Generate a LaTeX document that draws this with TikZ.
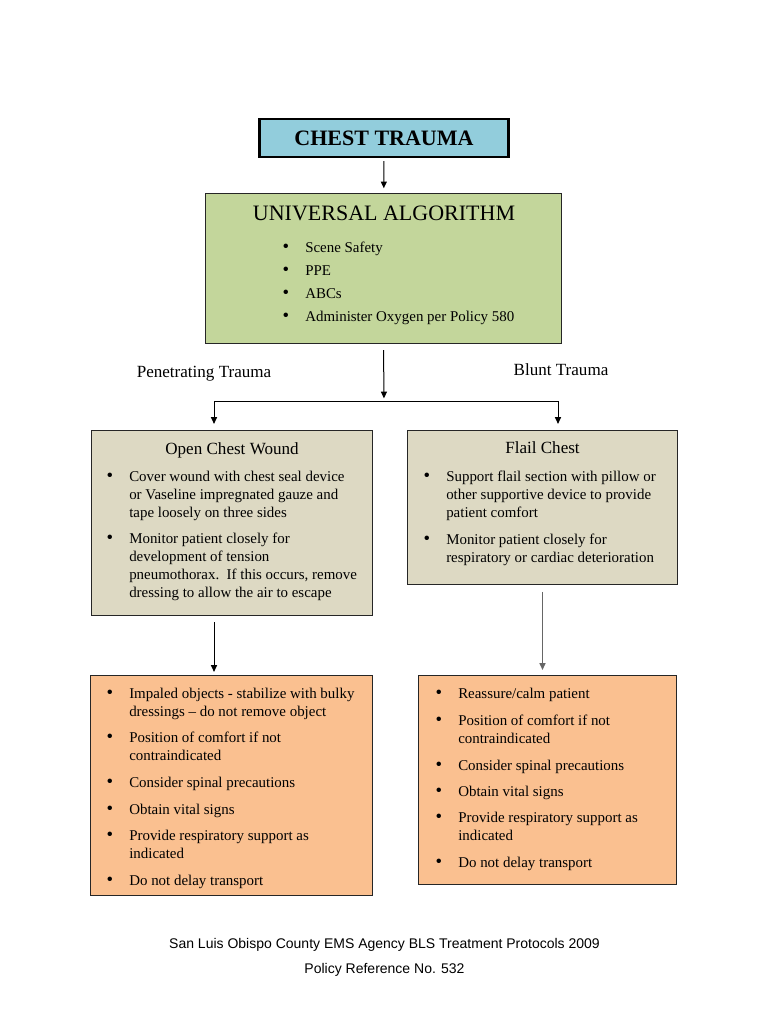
\documentclass[tikz,border=0pt]{standalone}
\usepackage{fontspec}
\setmainfont{Liberation Serif}
\newfontfamily\footfont{Liberation Sans}
\usetikzlibrary{arrows.meta}
\definecolor{titleblue}{RGB}{146,205,220}
\definecolor{algogreen}{RGB}{195,214,155}
\definecolor{woundtan}{RGB}{221,217,195}
\definecolor{careorange}{RGB}{250,192,144}

% bullet item, lines broken by hand
\newcommand{\bul}[1]{\parbox[t]{230pt}{\raggedright\leavevmode
  \llap{\raisebox{-0.3pt}{\fontsize{14}{14}\selectfont\textbullet}\hspace{12pt}}#1}}

\begin{document}
\begin{tikzpicture}[x=0.75pt, y=-0.75pt, >={Triangle[length=5pt,width=4.5pt]},
  box/.style={draw=black!85, line width=0.9pt, inner sep=0pt},
  item/.style={anchor=base west, inner sep=0pt, font=\fontsize{11.2}{13.5}\selectfont},
  head/.style={anchor=base, inner sep=0pt, font=\fontsize{12.8}{15}\selectfont},
  arr/.style={->, line width=0.75pt}]
\useasboundingbox[fill=white] (0,0) rectangle (768,1024);

% Boxes
\node[box, draw=black, line width=2.2pt, fill=titleblue, minimum width=187pt, minimum height=28.5pt,
  font=\fontsize{16.5}{18}\selectfont\bfseries] (title) at (384,138) {CHEST TRAUMA};
\node[box, fill=algogreen, minimum width=267pt, minimum height=112.5pt] (univ) at (383.5,268.5) {};
\node[box, fill=woundtan, minimum width=210.75pt, minimum height=138.75pt] (open) at (232,523) {};
\node[box, fill=woundtan, minimum width=202.5pt, minimum height=115.5pt] (flail) at (542.5,507.5) {};
\node[box, fill=careorange, minimum width=211.5pt, minimum height=165pt] (openaid) at (231.5,785.5) {};
\node[box, fill=careorange, minimum width=193.5pt, minimum height=156.75pt] (flailaid) at (547.5,780) {};

% Universal algorithm
\node[head, font=\fontsize{16.5}{18}\selectfont] (univhd) at (384,220) {UNIVERSAL ALGORITHM};
\node[item] (u1) at (305,252) {\bul{Scene Safety}};
\node[item] (u2) at (305,275) {\bul{PPE}};
\node[item] (u3) at (305,298) {\bul{ABCs}};
\node[item] (u4) at (305,321) {\bul{Administer Oxygen per Policy 580}};

% Branch labels
\node[head] (pen) at (204,377) {Penetrating Trauma};
\node[head] (blunt) at (561,375) {Blunt Trauma};

% Open chest wound
\node[head] (openhd) at (232,454) {Open Chest Wound};
\node[item] (o1) at (129,481) {\bul{Cover wound with chest seal device\\or Vaseline impregnated gauze and\\tape loosely on three sides}};
\node[item] (o2) at (129,543) {\bul{Monitor patient closely for\\development of tension\\pneumothorax.\ \ If this occurs, remove\\dressing to allow the air to escape}};

% Flail chest
\node[head] (flailhd) at (542.5,453) {Flail Chest};
\node[item] (f1) at (446,481) {\bul{Support flail section with pillow or\\other supportive device to provide\\patient comfort}};
\node[item] (f2) at (446,544) {\bul{Monitor patient closely for\\respiratory or cardiac deterioration}};

% Care, penetrating side
\node[item] (p1) at (129,698) {\bul{Impaled objects - stabilize with bulky\\dressings -- do not remove object}};
\node[item] (p2) at (129,742) {\bul{Position of comfort if not\\contraindicated}};
\node[item] (p3) at (129,787) {\bul{Consider spinal precautions}};
\node[item] (p4) at (129,814) {\bul{Obtain vital signs}};
\node[item] (p5) at (129,840) {\bul{Provide respiratory support as\\indicated}};
\node[item] (p6) at (129,885) {\bul{Do not delay transport}};

% Care, blunt side
\node[item] (b1) at (458,698) {\bul{Reassure/calm patient}};
\node[item] (b2) at (458,725) {\bul{Position of comfort if not\\contraindicated}};
\node[item] (b3) at (458,770) {\bul{Consider spinal precautions}};
\node[item] (b4) at (458,796) {\bul{Obtain vital signs}};
\node[item] (b5) at (458,822) {\bul{Provide respiratory support as\\indicated}};
\node[item] (b6) at (458,867) {\bul{Do not delay transport}};

% Connectors
\coordinate (jn) at (384,401);
\coordinate (jl) at (214,401);
\coordinate (jr) at (558,401);
\draw[arr, shorten <=2pt, shorten >=3.5pt] (title) -- (univ);
\draw[arr, shorten <=4.5pt, shorten >=2pt] (univ.south) -- (jn);
\draw[line width=0.75pt] (jl) -- (jr);
\draw[arr, shorten >=4.5pt] (jl) -- (jl |- open.north);
\draw[arr, shorten >=4.5pt] (jr) -- (jr |- flail.north);
\draw[arr, shorten <=4.5pt, shorten >=2.25pt] (jl |- open.south) -- (jl |- openaid.north);
\draw[arr, black!60, shorten <=5pt, shorten >=3.75pt] (flail.south) -- (flail.south |- flailaid.north);

% Footer
\node[anchor=base, inner sep=0pt, font=\footfont\fontsize{10.5}{12}\selectfont] (foot1) at (384.5,948)
  {San Luis Obispo County EMS Agency BLS Treatment Protocols 2009};
\node[anchor=base, inner sep=0pt, font=\footfont\fontsize{10.5}{12}\selectfont] (foot2) at (384.5,973)
  {Policy Reference No. 532};
\end{tikzpicture}
\end{document}
